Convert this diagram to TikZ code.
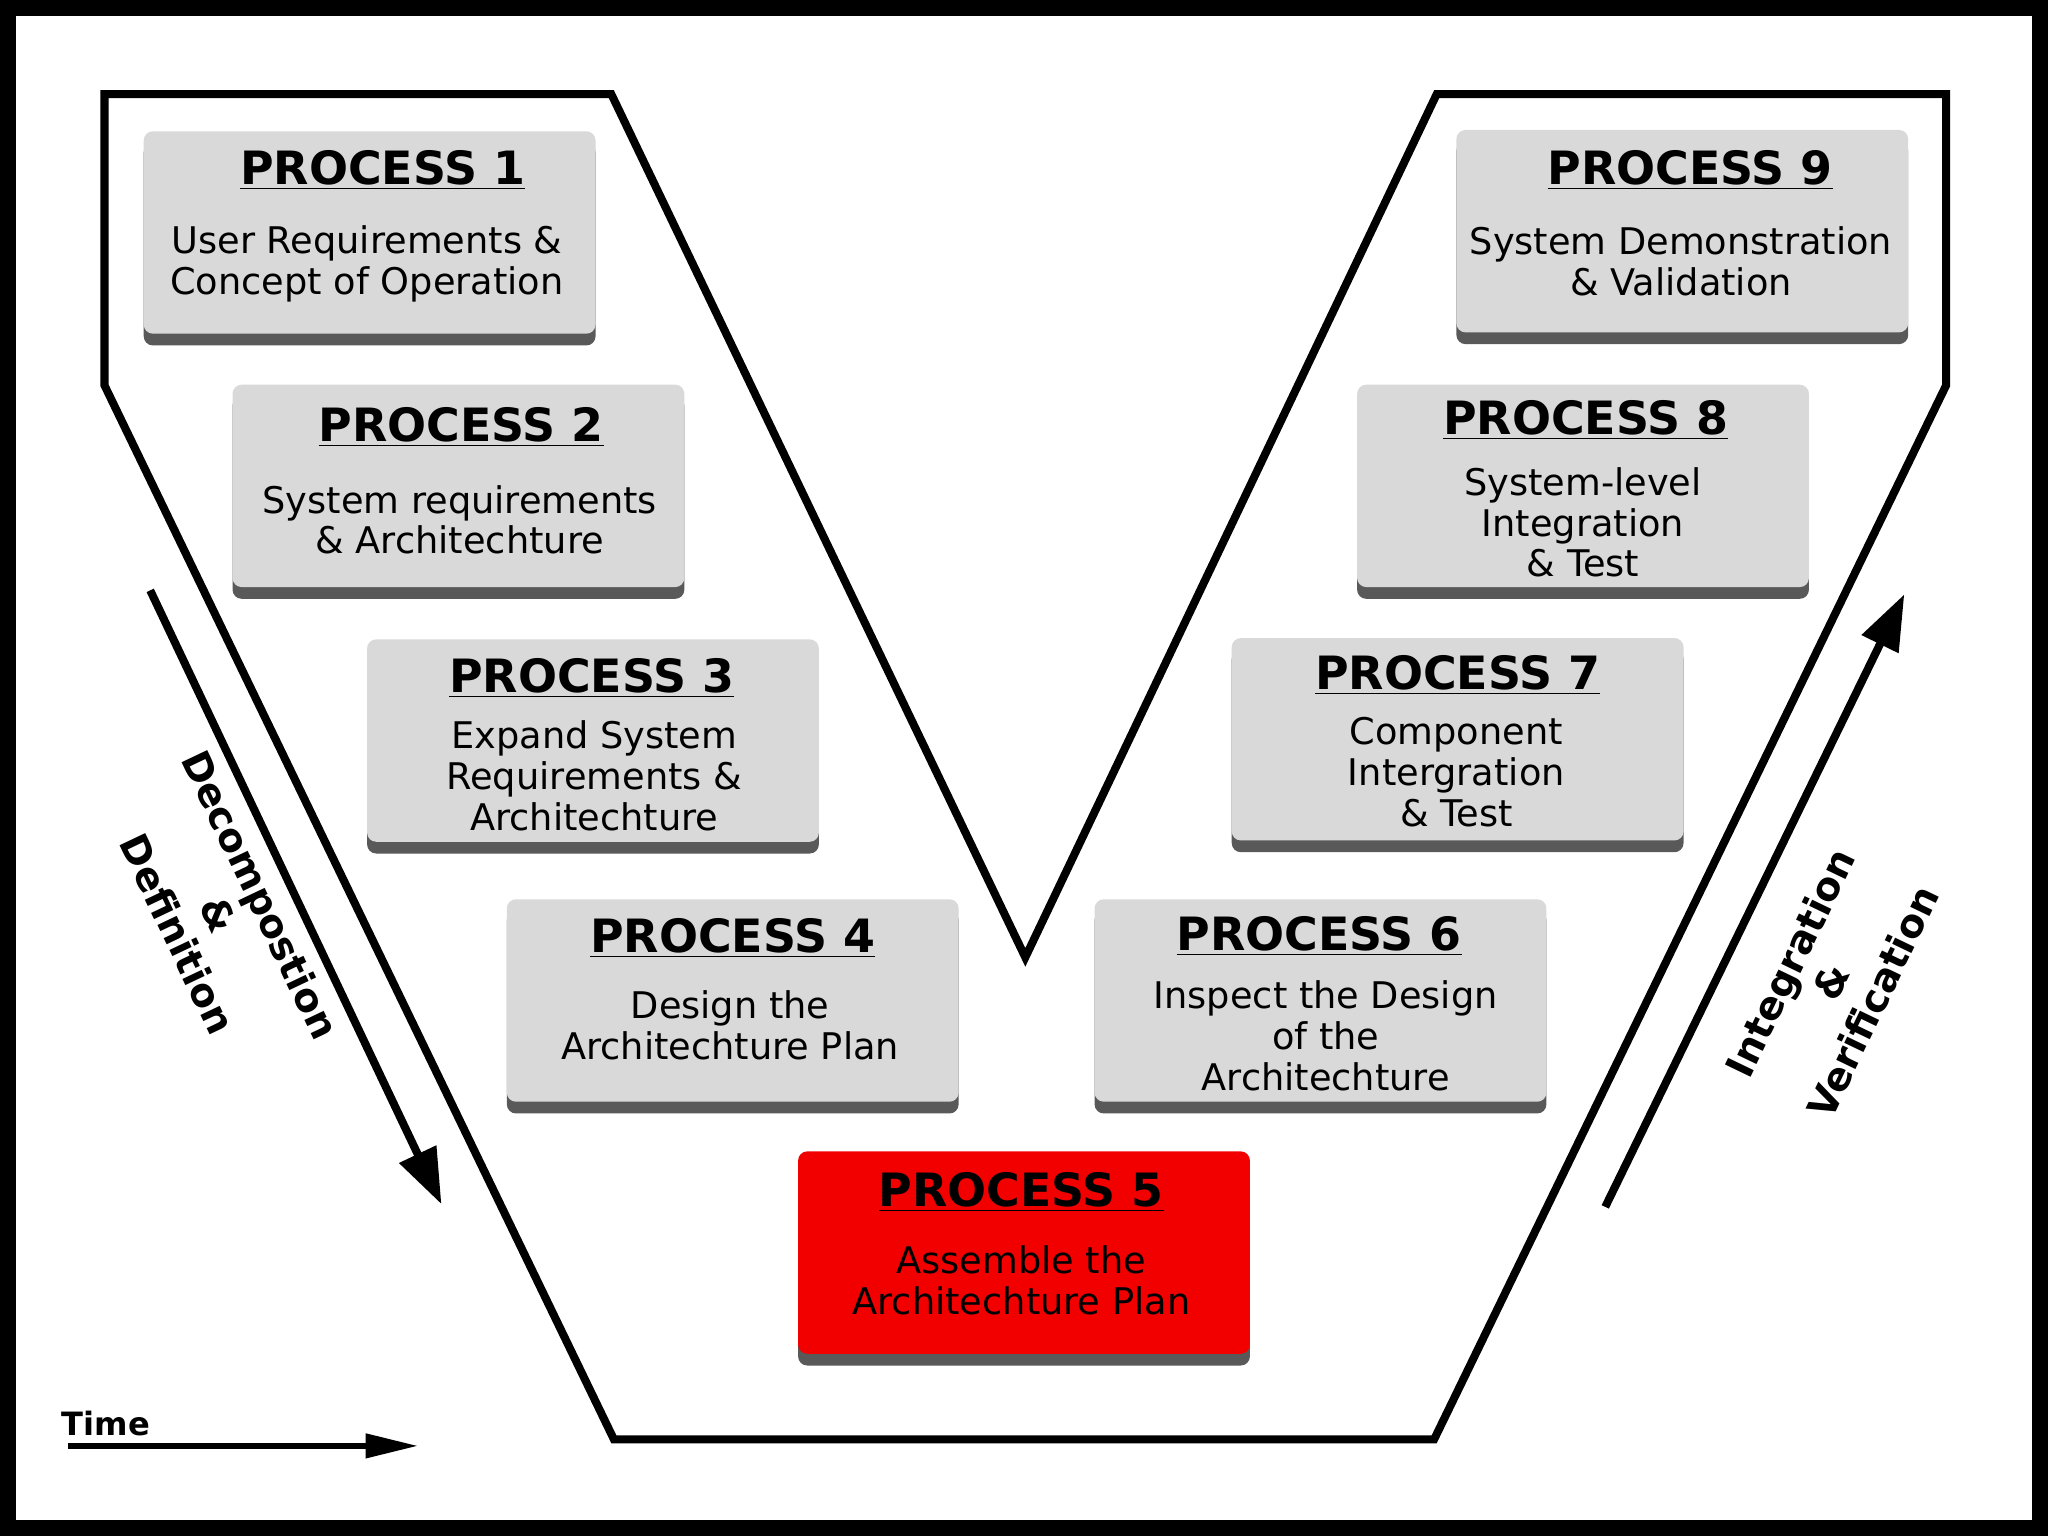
\documentclass[tikz,border=0pt]{standalone}
\usepackage{fontspec}
\setmainfont{DejaVu Sans}
\usetikzlibrary{shadows,arrows.meta}
\begin{document}
\begin{tikzpicture}[x=0.02cm,y=-0.02cm,
  pbox/.style={draw=none,fill=black!15,rounded corners=4pt,minimum width=6.92cm,minimum height=3.1cm,
    drop shadow={shadow xshift=0cm,shadow yshift=-0.18cm,fill=black!65,opacity=1}},
  ttl/.style={font=\fontsize{20}{23}\selectfont\bfseries},
  body/.style={font=\fontsize{16}{17.8}\selectfont,align=center},
  big/.style={line width=3.5pt,-{Triangle[length=0.85cm,width=0.6cm]}},
  side/.style={font=\fontsize{17}{20}\selectfont\bfseries,align=center}]
\fill[black] (0,0) rectangle (1568,1176);
\fill[white] (12,12) rectangle (1556,1164);
\useasboundingbox (0,0) rectangle (1568,1176);
\draw[line width=3.5pt,line join=miter] (80,72) -- (468,72) -- (785,733) -- (1100,72) -- (1490,72) -- (1490,295) -- (1098,1102) -- (470,1102) -- (80,295) -- cycle;
% boxes
\node[pbox] (b1) at (283,178) {};
\node[pbox] (b2) at (351,372) {};
\node[pbox] (b3) at (454,567) {};
\node[pbox] (b4) at (561,766) {};
\node[pbox,fill=red!95!black] (b5) at (784,959) {};
\node[pbox] (b6) at (1011,766) {};
\node[pbox] (b7) at (1116,566) {};
\node[pbox] (b8) at (1212,372) {};
\node[pbox] (b9) at (1288,177) {};
\node[ttl] (t1) at (293,130) {\underline{PROCESS 1}};
\node[body] (x1) at (281,202) {User Requirements \&\\Concept of Operation};
\node[ttl] (t2) at (353,327) {\underline{PROCESS 2}};
\node[body] (x2) at (352,398) {System requirements\\\& Architechture};
\node[ttl] (t3) at (453,519) {\underline{PROCESS 3}};
\node[body] (x3) at (455,594) {Expand System\\Requirements \&\\Architechture};
\node[ttl] (t4) at (561,718) {\underline{PROCESS 4}};
\node[body] (x4) at (559,785) {Design the\\Architechture Plan};
\node[ttl] (t5) at (782,913) {\underline{PROCESS 5}};
\node[body] (x5) at (782,980) {Assemble the\\Architechture Plan};
\node[ttl] (t6) at (1010,717) {\underline{PROCESS 6}};
\node[body] (x6) at (1015,793) {Inspect the Design\\of the\\Architechture};
\node[ttl] (t7) at (1116,517) {\underline{PROCESS 7}};
\node[body] (x7) at (1115,591) {Component\\Intergration\\\& Test};
\node[ttl] (t8) at (1214,322) {\underline{PROCESS 8}};
\node[body] (x8) at (1212,400) {System-level\\Integration\\\& Test};
\node[ttl] (t9) at (1294,130) {\underline{PROCESS 9}};
\node[body] (x9) at (1287,200) {System Demonstration\\\& Validation};
% arrows
\coordinate (l1) at (115,452); \coordinate (l2) at (338,922);
\coordinate (r1) at (1229,924); \coordinate (r2) at (1458,455);
\coordinate (tm1) at (52,1107); \coordinate (tm2) at (320,1107);
\draw[big] (l1) -- (l2);
\draw[big] (r1) -- (r2);
\draw[line width=2.5pt,-{Triangle[length=0.8cm,width=0.36cm]}] (tm1) -- (tm2);
\node[font=\fontsize{14}{16}\selectfont\bfseries] (tl) at (81,1090) {Time};
\node[side,rotate=-64.6] (dl) at (168,700) {Decompostion\\\&\\Definition};
\node[side,rotate=64.3] (il) at (1402,752) {Integration\\\&\\Verification};
\end{tikzpicture}
\end{document}
